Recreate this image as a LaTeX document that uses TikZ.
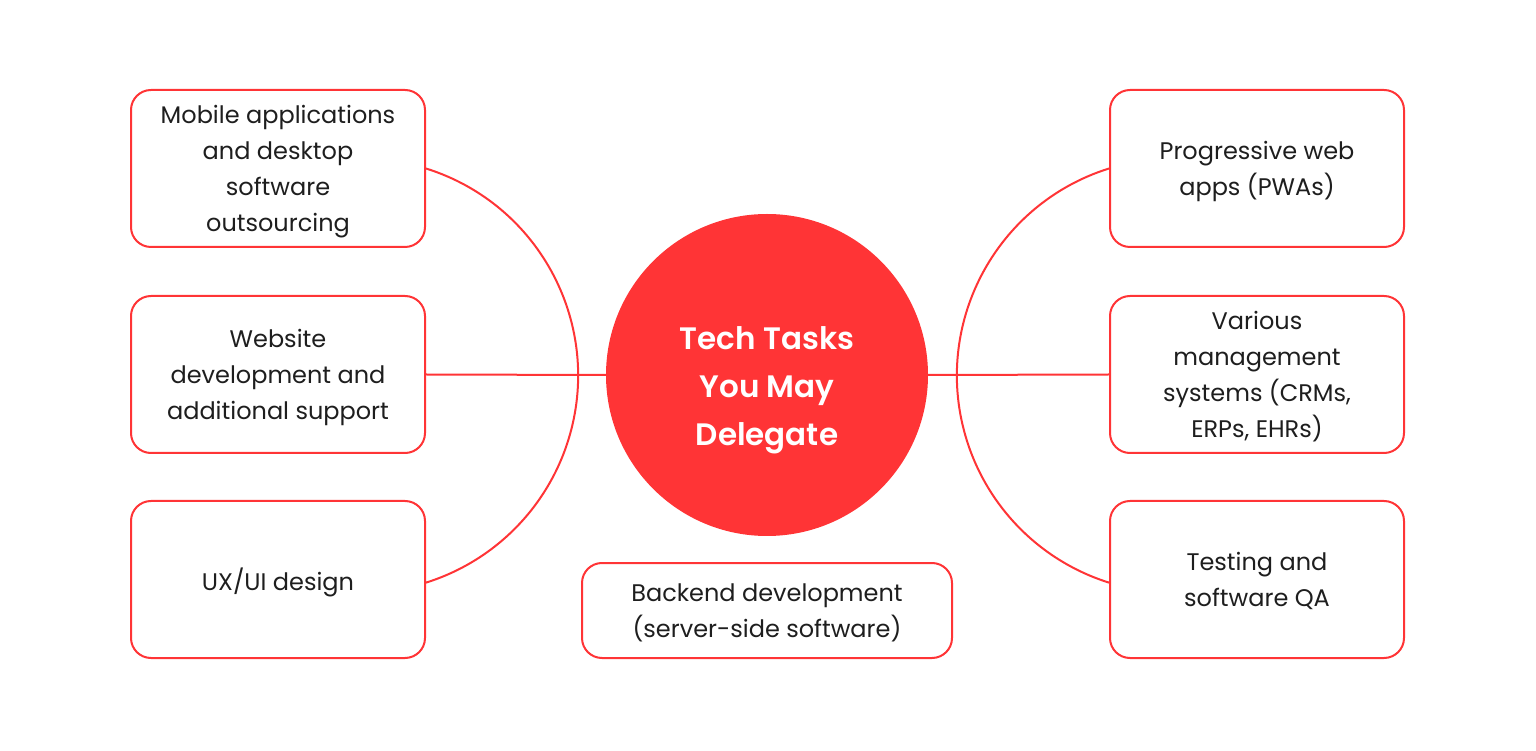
\documentclass[tikz,border=0pt]{standalone}
\usepackage{fontspec}
\setmainfont{Poppins}
\newfontfamily\hubfont{Poppins SemiBold}
\definecolor{techred}{HTML}{FF3436}
\definecolor{ink}{HTML}{1E1E1E}
\begin{document}
\begin{tikzpicture}[x=1pt,y=1pt,
    task/.style={draw=techred,line width=2pt,rounded corners=20pt,minimum width=294pt,minimum height=157pt,align=center,text=ink,text depth=0pt,font=\fontsize{24}{36}\selectfont},
    link/.style={draw=techred,line width=2pt}]
    \useasboundingbox(0,0)rectangle(1536,750);
    \node[circle,fill=techred,minimum size=322pt,label={[yshift=-15pt,text=white,align=center,font=\fontsize{31}{48}\hubfont]center:Tech Tasks\\You May\\Delegate}](hub)at(767,375){};
    \node[task](mobile)at(278,581.5){Mobile applications\\and desktop\\software\\outsourcing};
    \node[task](web)at(278,375.5){Website\\development and\\additional support};
    \node[task](uxui)at(278,170.5){UX/UI design};
    \node[task](pwa)at(1257,581.5){Progressive web\\apps (PWAs)};
    \node[task](mgmt)at(1257,375.5){Various\\management\\systems (CRMs,\\ERPs, EHRs)};
    \node[task](qa)at(1257,170.5){Testing and\\software QA};
    \node[task,minimum width=370pt,minimum height=95pt](backend)at(767,139.5){Backend development\\(server-side software)};
    \draw[link](mobile.east)arc[start angle=72.6,end angle=-72.6,radius=217];
    \draw[link](pwa.west)arc[start angle=107.4,end angle=252.6,radius=217];
    \draw[link](web.east)--(hub.west);
    \draw[link](hub.east)--(mgmt.west);
\end{tikzpicture}
\end{document}
